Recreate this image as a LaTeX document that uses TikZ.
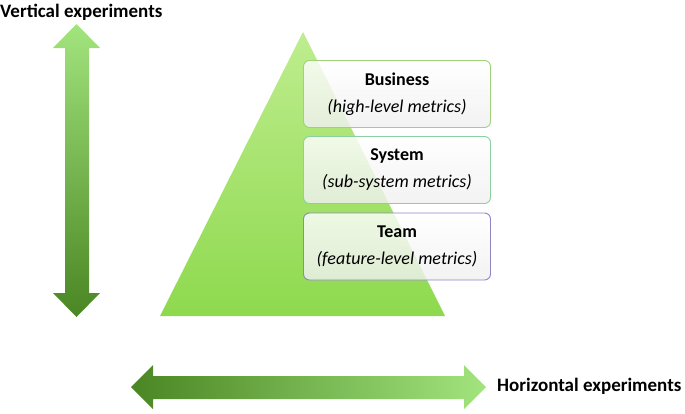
\documentclass[tikz,border=0pt]{standalone}
\usepackage{fontspec}
\setmainfont{Carlito}
\usetikzlibrary{positioning}
\definecolor{arrowlight}{HTML}{A2E47E}
\definecolor{arrowmid}{HTML}{74CF3C}
\definecolor{arrowdark}{HTML}{4A8623}
\definecolor{pyrtop}{HTML}{BEED8E}
\definecolor{pyrbot}{HTML}{8ED94E}
\definecolor{bizline}{HTML}{9ED27A}
\definecolor{sysline}{HTML}{8CCFA0}
\definecolor{teamline}{HTML}{8C86C8}

\begin{document}
\begin{tikzpicture}[x=1pt, y=-1pt,
  level/.style={rounded corners=6pt, minimum width=187pt, minimum height=67pt,
                line width=0.9pt, top color=white, bottom color=gray!12, fill opacity=0.82,
                text opacity=1, align=center, font=\fontsize{18}{21}\selectfont},
  axislabel/.style={font=\fontsize{19}{22}\selectfont\bfseries, inner sep=0pt}
]
  \useasboundingbox (0,0) rectangle (685,413);

  % pyramid
  \shade[top color=pyrtop, bottom color=pyrbot] (303,32) -- (445,316) -- (160,316) -- cycle;

  % experiment axes
  \shade[top color=arrowlight, middle color=arrowmid, bottom color=arrowdark]
    (76.5,24) -- (100,48) -- (89,48) -- (89,293) -- (100,293) -- (76.5,317)
    -- (53,293) -- (65,293) -- (65,48) -- (53,48) -- cycle;
  \shade[left color=arrowdark, middle color=arrowmid, right color=arrowlight]
    (131,387) -- (153,365) -- (153,376) -- (464,376) -- (464,365) -- (486,387)
    -- (464,409) -- (464,399) -- (153,399) -- (153,409) -- cycle;

  \node[axislabel, anchor=west] (vlabel) at (0,12) {Vertical experiments};
  \node[axislabel, anchor=west] (hlabel) at (497,386) {Horizontal experiments};

  \node[level, draw=bizline] (business) at (397,94) {\textbf{Business}\\[6pt]\textit{(high-level metrics)}};
  \node[level, draw=sysline] (system) at (397,170) {\textbf{System}\\[6pt]\textit{(sub-system metrics)}};
  \node[level, draw=teamline] (team) at (397,246.5) {\textbf{Team}\\[6pt]\textit{(feature-level metrics)}};
\end{tikzpicture}
\end{document}
